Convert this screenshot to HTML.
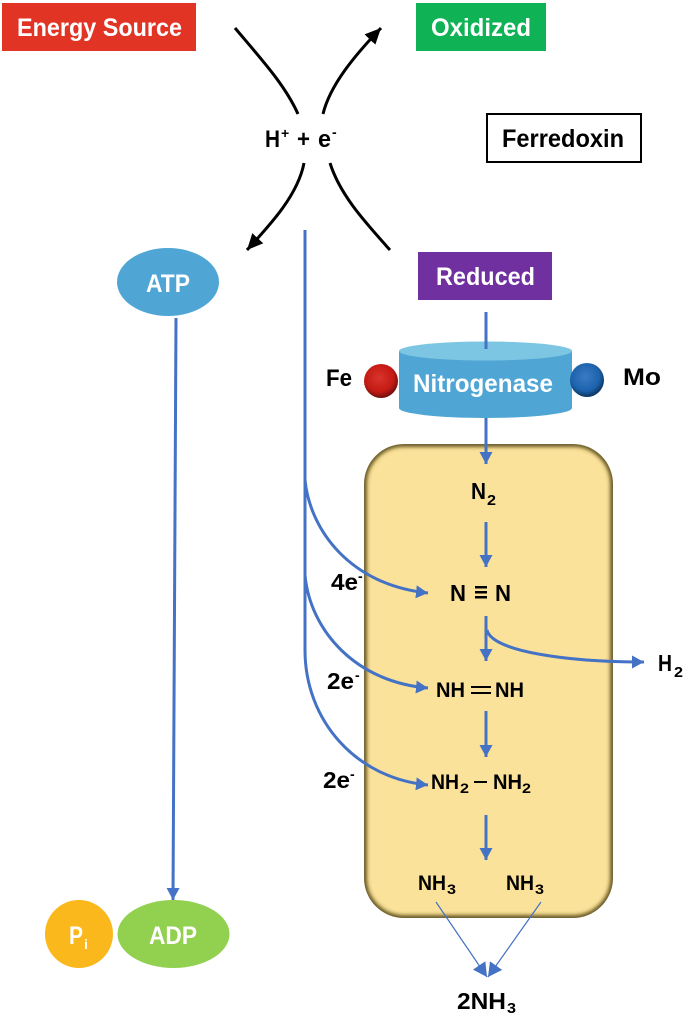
<!DOCTYPE html>
<html>
<head>
<meta charset="utf-8">
<style>
html,body{margin:0;padding:0;background:#fff;}
svg{display:block;}
text{font-family:"Liberation Sans",sans-serif;font-weight:bold;}
</style>
</head>
<body>
<svg width="685" height="1017" viewBox="0 0 685 1017" xmlns="http://www.w3.org/2000/svg">
<defs>
<marker id="b" markerUnits="userSpaceOnUse" markerWidth="14" markerHeight="14" refX="12" refY="6.5" orient="auto"><path d="M0,0 L12,6.5 L0,13 Z" fill="#4472c4"/></marker>
<marker id="t" markerUnits="userSpaceOnUse" markerWidth="16" markerHeight="16" refX="14" refY="7.5" orient="auto"><path d="M0,0 L14,7.500 L0,15 Z" fill="#4472c4"/></marker>
<marker id="k" markerUnits="userSpaceOnUse" markerWidth="18" markerHeight="16" refX="16" refY="7.5" orient="auto"><path d="M0,0 L16,7.500 L0,15 Z" fill="#000"/></marker>
<radialGradient id="red" cx="45%" cy="40%" r="60%"><stop offset="0" stop-color="#d8342c"/><stop offset=".7" stop-color="#c41a14"/><stop offset="1" stop-color="#6e0f0c"/></radialGradient>
<radialGradient id="blu" cx="45%" cy="40%" r="60%"><stop offset="0" stop-color="#3a7cc4"/><stop offset=".7" stop-color="#1c62ac"/><stop offset="1" stop-color="#0c3560"/></radialGradient>
<clipPath id="boxclip"><rect x="364" y="444" width="249" height="474" rx="40" ry="40"/></clipPath>
<filter id="soft" x="-5%" y="-5%" width="110%" height="110%"><feGaussianBlur stdDeviation="2.2"/></filter>
</defs>

<rect x="2" y="3" width="194" height="48" fill="#e23424"/>
<text x="17" y="36" font-size="25" fill="#fff" textLength="165" lengthAdjust="spacingAndGlyphs">Energy Source</text>
<rect x="416" y="3" width="130" height="48" fill="#0fb254"/>
<text x="431" y="36" font-size="25" fill="#fff" textLength="100" lengthAdjust="spacingAndGlyphs">Oxidized</text>
<rect x="487" y="114" width="154" height="48" fill="#fff" stroke="#000" stroke-width="2"/>
<text x="502" y="147" font-size="25" fill="#000" textLength="122" lengthAdjust="spacingAndGlyphs">Ferredoxin</text>
<rect x="418" y="252" width="134" height="48" fill="#7030a0"/>
<text x="436" y="285" font-size="25" fill="#fff" textLength="99" lengthAdjust="spacingAndGlyphs">Reduced</text>

<g fill="none" stroke="#000" stroke-width="3">
<path d="M235,28 C262,60 285,85 298,114"/>
<path d="M323,114 C330,85 355,55 381,28" marker-end="url(#k)"/>
<path d="M304,163 C298,195 270,225 247,250" marker-end="url(#k)"/>
<path d="M330,163 C340,195 365,222 390,250"/>
</g>
<text x="265" y="147" font-size="24" fill="#000" textLength="15" lengthAdjust="spacingAndGlyphs">H</text>
<text x="281" y="138" font-size="14" fill="#000">+</text>
<text x="297" y="147" font-size="24" fill="#000" textLength="13" lengthAdjust="spacingAndGlyphs">+</text>
<text x="318" y="147" font-size="24" fill="#000" textLength="13" lengthAdjust="spacingAndGlyphs">e</text>
<text x="332" y="137" font-size="14" fill="#000">-</text>

<ellipse cx="168" cy="282" rx="51" ry="34" fill="#4fa6d4"/>
<text x="146" y="292" font-size="25" fill="#fff" textLength="44" lengthAdjust="spacingAndGlyphs">ATP</text>

<rect x="364" y="444" width="249" height="474" rx="40" ry="40" fill="#fbe29a"/>
<g clip-path="url(#boxclip)">
<rect x="364" y="444" width="249" height="474" rx="40" ry="40" fill="none" stroke="#4a3c08" stroke-width="5" filter="url(#soft)"/>
</g>

<path d="M399,351 L399,408 A86.5,10 0 0 0 572,408 L572,351 Z" fill="#4fa6d4"/>
<ellipse cx="485.5" cy="351" rx="86.5" ry="9.5" fill="#7cc5e3"/>
<text x="413" y="392" font-size="25" fill="#fff" textLength="140" lengthAdjust="spacingAndGlyphs">Nitrogenase</text>
<circle cx="381" cy="381" r="17" fill="url(#red)"/>
<circle cx="587" cy="380" r="17" fill="url(#blu)"/>
<text x="326" y="386" font-size="24" fill="#000" textLength="26" lengthAdjust="spacingAndGlyphs">Fe</text>
<text x="623" y="385" font-size="24" fill="#000" textLength="38" lengthAdjust="spacingAndGlyphs">Mo</text>

<g fill="none" stroke="#4472c4" stroke-width="3">
<path d="M486,312 L486,349"/>
<path d="M486,418 L486,464" marker-end="url(#b)"/>
<path d="M486,522 L486,567" marker-end="url(#b)"/>
<path d="M486,616 L486,661" marker-end="url(#b)"/>
<path d="M486,711 L486,757" marker-end="url(#b)"/>
<path d="M486,815 L486,860" marker-end="url(#b)"/>
<path d="M487,630 C492,652 570,662 644,662" marker-end="url(#b)"/>
<path d="M305,230 L305,650 C305,720 355,778 428,785" marker-end="url(#b)"/>
<path d="M305,480 C310,530 350,585 428,593" marker-end="url(#b)"/>
<path d="M305,575 C310,630 355,682 428,688" marker-end="url(#b)"/>
<path d="M176,318 L173,900" marker-end="url(#b)"/>
<path d="M436,902 L487,977" stroke-width="1.2" marker-end="url(#t)"/>
<path d="M541,902 L488,977" stroke-width="1.2" marker-end="url(#t)"/>
</g>

<g fill="#000">
<text x="471" y="499" font-size="23" textLength="15" lengthAdjust="spacingAndGlyphs">N</text>
<text x="487" y="505" font-size="15" textLength="9" lengthAdjust="spacingAndGlyphs">2</text>
<text x="450" y="601" font-size="23" textLength="16" lengthAdjust="spacingAndGlyphs">N</text>
<rect x="475" y="586" width="12" height="2.5"/>
<rect x="475" y="591" width="12" height="2.5"/>
<rect x="475" y="596" width="12" height="2.5"/>
<text x="495" y="601" font-size="23" textLength="16" lengthAdjust="spacingAndGlyphs">N</text>
<text x="436" y="697" font-size="21" textLength="29" lengthAdjust="spacingAndGlyphs">NH</text>
<rect x="471" y="686" width="20" height="2"/>
<rect x="471" y="692" width="20" height="2"/>
<text x="495" y="697" font-size="21" textLength="29" lengthAdjust="spacingAndGlyphs">NH</text>
<text x="431" y="789" font-size="21" textLength="28" lengthAdjust="spacingAndGlyphs">NH</text>
<text x="460" y="793" font-size="14" textLength="9" lengthAdjust="spacingAndGlyphs">2</text>
<rect x="474" y="781" width="13" height="2"/>
<text x="493" y="789" font-size="21" textLength="29" lengthAdjust="spacingAndGlyphs">NH</text>
<text x="522" y="793" font-size="14" textLength="9" lengthAdjust="spacingAndGlyphs">2</text>
<text x="418" y="890" font-size="21" textLength="28" lengthAdjust="spacingAndGlyphs">NH</text>
<text x="447" y="894" font-size="14" textLength="9" lengthAdjust="spacingAndGlyphs">3</text>
<text x="506" y="890" font-size="21" textLength="28" lengthAdjust="spacingAndGlyphs">NH</text>
<text x="535" y="894" font-size="14" textLength="9" lengthAdjust="spacingAndGlyphs">3</text>
<text x="457" y="1009" font-size="23" textLength="49" lengthAdjust="spacingAndGlyphs">2NH</text>
<text x="507" y="1013" font-size="15" textLength="9" lengthAdjust="spacingAndGlyphs">3</text>
<text x="658" y="671" font-size="23" textLength="14" lengthAdjust="spacingAndGlyphs">H</text>
<text x="674" y="677" font-size="15" textLength="9" lengthAdjust="spacingAndGlyphs">2</text>
<text x="331" y="590" font-size="23" textLength="27" lengthAdjust="spacingAndGlyphs">4e</text>
<text x="358" y="581" font-size="14">-</text>
<text x="327" y="689" font-size="23" textLength="27" lengthAdjust="spacingAndGlyphs">2e</text>
<text x="355" y="680" font-size="14">-</text>
<text x="323" y="788" font-size="23" textLength="27" lengthAdjust="spacingAndGlyphs">2e</text>
<text x="350" y="779" font-size="14">-</text>
</g>

<circle cx="79" cy="934" r="34" fill="#fbb81c"/>
<text x="69" y="944" font-size="25" fill="#fff" textLength="14" lengthAdjust="spacingAndGlyphs">P</text>
<text x="84" y="949" font-size="14" fill="#fff">i</text>
<ellipse cx="173.5" cy="934" rx="56" ry="34" fill="#92d050"/>
<text x="149" y="944" font-size="25" fill="#fff" textLength="48" lengthAdjust="spacingAndGlyphs">ADP</text>
</svg>
</body>
</html>
